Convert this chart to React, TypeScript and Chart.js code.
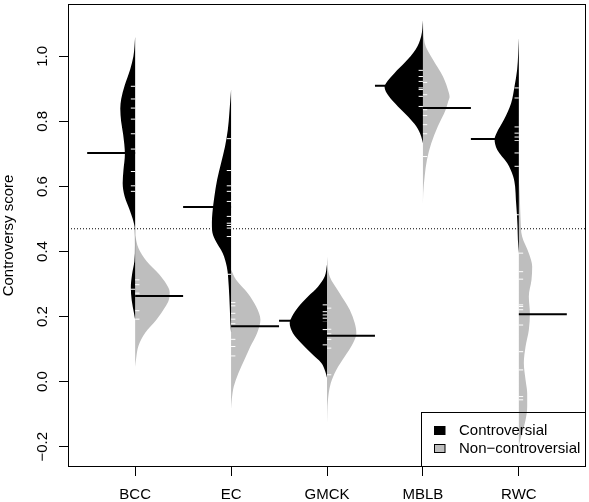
import { useEffect, useRef } from "react";
import { Chart, registerables } from "chart.js";

Chart.register(...registerables);

const FONT = "'Liberation Sans', Arial, sans-serif";
const FONT_SIZE = 15;

const categories = ["BCC", "EC", "GMCK", "MBLB", "RWC"];
const seriesNames = ["Controversial", "Non\u2212controversial"];
const seriesColors = ["#000000", "#bebebe"];

const yTickValues = [-0.2, 0, 0.2, 0.4, 0.6, 0.8, 1.0];
const yTickLabels = ["\u22120.2", "0.0", "0.2", "0.4", "0.6", "0.8", "1.0"];

const overallMean = 0.47;
const meanControversial = [0.703, 0.537, 0.187, 0.91, 0.746];
const meanNonControversial = [0.263, 0.17, 0.141, 0.841, 0.207];

// individual scores (white bean lines)
const bccScoresC = [0.908, 0.869, 0.841, 0.807, 0.762, 0.715, 0.703, 0.646, 0.602, 0.585, 0.284];
const bccScoresN = [0.313, 0.298, 0.272, 0.265, 0.218, 0.192];
const ecScoresC = [0.747, 0.649, 0.602, 0.585, 0.554, 0.537, 0.508, 0.487, 0.48, 0.472, 0.446, 0.33];
const ecScoresN = [0.243, 0.233, 0.21, 0.192, 0.178, 0.13, 0.108, 0.079];
const gmckScoresC = [0.236, 0.215, 0.205, 0.195, 0.185, 0.16, 0.113];
const gmckScoresN = [0.226, 0.161, 0.147, 0.141, 0.13, 0.103, 0.021];
const mblbScoresC = [0.957, 0.938, 0.923, 0.903, 0.898, 0.877, 0.846];
const mblbScoresN = [0.92, 0.882, 0.836, 0.818, 0.79, 0.762, 0.692];
const rwcScoresC = [0.903, 0.872, 0.783, 0.764, 0.752, 0.747, 0.742, 0.703, 0.662, 0.513];
const rwcScoresN = [0.395, 0.338, 0.315, 0.236, 0.231, 0.221, 0.174, 0.092, 0.036, -0.046, -0.056];

// density outlines: [score, half width in category units]
const bccDensityC = [[1.06, 0], [1.0, 0.018], [0.96, 0.052], [0.91, 0.11], [0.87, 0.145], [0.84, 0.155], [0.8, 0.146], [0.76, 0.125], [0.7, 0.107], [0.65, 0.122], [0.61, 0.13], [0.57, 0.11], [0.53, 0.06], [0.5, 0.025], [0.47, 0.004], [0.42, 0.002], [0.37, 0.008], [0.33, 0.032], [0.29, 0.045], [0.25, 0.036], [0.21, 0.012], [0.19, 0]];
const bccDensityN = [[0.45, 0], [0.41, 0.035], [0.37, 0.12], [0.33, 0.25], [0.3, 0.325], [0.275, 0.36], [0.25, 0.35], [0.23, 0.315], [0.19, 0.222], [0.15, 0.105], [0.11, 0.035], [0.07, 0.01], [0.045, 0]];
const ecDensityC = [[0.897, 0], [0.826, 0.018], [0.774, 0.034], [0.723, 0.063], [0.672, 0.104], [0.62, 0.146], [0.569, 0.174], [0.518, 0.195], [0.49, 0.2], [0.465, 0.198], [0.436, 0.167], [0.395, 0.087], [0.354, 0.045], [0.292, 0.024], [0.231, 0.014], [0.18, 0.007], [0.15, 0]];
const ecDensityN = [[0.344, 0], [0.313, 0.052], [0.272, 0.174], [0.231, 0.261], [0.19, 0.306], [0.149, 0.271], [0.108, 0.201], [0.067, 0.139], [0.026, 0.076], [-0.015, 0.028], [-0.056, 0.007], [-0.085, 0]];
const gmckDensityC = [[0.36, 0], [0.323, 0.024], [0.292, 0.094], [0.262, 0.198], [0.231, 0.295], [0.2, 0.365], [0.18, 0.389], [0.149, 0.355], [0.118, 0.268], [0.087, 0.164], [0.057, 0.059], [0.031, 0.018], [0.012, 0]];
const gmckDensityN = [[0.385, 0], [0.323, 0.028], [0.272, 0.132], [0.221, 0.237], [0.18, 0.289], [0.149, 0.306], [0.118, 0.271], [0.077, 0.185], [0.036, 0.097], [-0.005, 0.039], [-0.056, 0.01], [-0.128, 0]];
const mblbDensityC = [[1.11, 0], [1.062, 0.018], [1.021, 0.076], [0.98, 0.191], [0.949, 0.295], [0.918, 0.383], [0.906, 0.4], [0.877, 0.355], [0.846, 0.261], [0.815, 0.156], [0.785, 0.07], [0.754, 0.018], [0.733, 0]];
const mblbDensityN = [[1.113, 0], [1.041, 0.018], [0.99, 0.104], [0.938, 0.209], [0.887, 0.271], [0.875, 0.278], [0.862, 0.264], [0.836, 0.237], [0.785, 0.156], [0.733, 0.087], [0.682, 0.042], [0.631, 0.018], [0.58, 0.003], [0.54, 0]];
const rwcDensityC = [[1.057, 0], [0.959, 0.018], [0.908, 0.045], [0.857, 0.08], [0.805, 0.156], [0.764, 0.233], [0.746, 0.253], [0.713, 0.226], [0.672, 0.122], [0.631, 0.059], [0.6, 0.039], [0.559, 0.031], [0.518, 0.021], [0.477, 0.014], [0.436, 0.01], [0.395, 0]];
const rwcDensityN = [[0.62, 0], [0.569, 0.01], [0.498, 0.018], [0.446, 0.034], [0.395, 0.104], [0.354, 0.139], [0.313, 0.132], [0.262, 0.104], [0.21, 0.115], [0.159, 0.104], [0.108, 0.07], [0.057, 0.052], [0.005, 0.07], [-0.036, 0.087], [-0.077, 0.087], [-0.118, 0.07], [-0.159, 0.034], [-0.195, 0]];

const scoresC = [bccScoresC, ecScoresC, gmckScoresC, mblbScoresC, rwcScoresC];
const scoresN = [bccScoresN, ecScoresN, gmckScoresN, mblbScoresN, rwcScoresN];
const densityC = [bccDensityC, ecDensityC, gmckDensityC, mblbDensityC, rwcDensityC];
const densityN = [bccDensityN, ecDensityN, gmckDensityN, mblbDensityN, rwcDensityN];

const MEAN_LEN = 0.5;
const TICK_LEN = 0.045;
const GAP = { x: null, y: null };

// box, rotated y labels and the legend, R style
const rFrame = {
  id: "rFrame",
  afterDraw(chart: any) {
    const { ctx, chartArea: a, scales } = chart;
    ctx.save();
    ctx.strokeStyle = "#000";
    ctx.lineWidth = 1;
    const l = Math.round(a.left) + 0.5;
    const t = Math.round(a.top) + 0.5;
    const r = Math.round(a.right) - 0.5;
    const b = Math.round(a.bottom) - 0.5;
    ctx.strokeRect(l, t, r - l, b - t);

    // y tick labels, rotated like R
    ctx.fillStyle = "#000";
    ctx.font = `${FONT_SIZE}px ${FONT}`;
    ctx.textAlign = "center";
    ctx.textBaseline = "alphabetic";
    yTickValues.forEach((v, i) => {
      const py = scales.y.getPixelForValue(v);
      ctx.save();
      ctx.translate(a.left - 21, py);
      ctx.rotate(-Math.PI / 2);
      ctx.fillText(yTickLabels[i], 0, 0);
      ctx.restore();
    });

    // legend
    const bw = 164;
    const bh = 54;
    const bx = r - bw;
    const by = b - bh;
    ctx.strokeRect(bx, by, bw, bh);
    ctx.textAlign = "left";
    ctx.textBaseline = "middle";
    seriesNames.forEach((name, i) => {
      const cy = by + 18 + i * 18;
      ctx.fillStyle = seriesColors[i];
      ctx.fillRect(bx + 13, cy - 4, 10.5, 8);
      ctx.strokeRect(bx + 13, cy - 4, 10.5, 8);
      ctx.fillStyle = "#000";
      ctx.fillText(name, bx + 37.5, cy + 0.5);
    });
    ctx.restore();
  },
};

export default function App() {
  const chartRef = useRef<HTMLCanvasElement>(null);
  const chartInstanceRef = useRef<Chart | null>(null);

  useEffect(() => {
    if (!chartRef.current) return;
    if (chartInstanceRef.current) chartInstanceRef.current.destroy();

    const datasets: any[] = [];

    // overall mean, dotted
    datasets.push({
      data: [{ x: 0.3, y: overallMean }, { x: 5.7, y: overallMean }],
      borderColor: "#000",
      borderWidth: 1,
      borderDash: [1, 2],
      pointRadius: 0,
      order: 6,
    });

    categories.forEach((_, i) => {
      const c = i + 1;
      // left half: controversial
      datasets.push({
        data: densityC[i].map(([v, w]) => ({ x: c - w, y: v })),
        fill: { value: c },
        backgroundColor: seriesColors[0],
        borderColor: "transparent",
        borderWidth: 0,
        pointRadius: 0,
        cubicInterpolationMode: "monotone",
        order: 5,
      });
      // right half: non-controversial
      datasets.push({
        data: densityN[i].map(([v, w]) => ({ x: c + w, y: v })),
        fill: { value: c },
        backgroundColor: seriesColors[1],
        borderColor: "transparent",
        borderWidth: 0,
        pointRadius: 0,
        cubicInterpolationMode: "monotone",
        order: 5,
      });
    });

    // bean lines
    datasets.push({
      data: scoresC.flatMap((arr, i) => arr.flatMap((v) => [{ x: i + 1 - TICK_LEN, y: v }, { x: i + 1, y: v }, GAP])),
      borderColor: "#fff",
      borderWidth: 1,
      pointRadius: 0,
      order: 3,
    });
    datasets.push({
      data: scoresN.flatMap((arr, i) => arr.flatMap((v) => [{ x: i + 1, y: v }, { x: i + 1 + TICK_LEN, y: v }, GAP])),
      borderColor: "#fff",
      borderWidth: 1,
      pointRadius: 0,
      order: 3,
    });

    // bean averages
    datasets.push({
      data: meanControversial.flatMap((m, i) => [{ x: i + 1 - MEAN_LEN, y: m }, { x: i + 1, y: m }, GAP]),
      borderColor: "#000",
      borderWidth: 2,
      pointRadius: 0,
      order: 2,
    });
    datasets.push({
      data: meanNonControversial.flatMap((m, i) => [{ x: i + 1, y: m }, { x: i + 1 + MEAN_LEN, y: m }, GAP]),
      borderColor: "#000",
      borderWidth: 2,
      pointRadius: 0,
      order: 2,
    });

    const axisGrid = { drawOnChartArea: false, drawTicks: true, tickLength: 9, color: "#000", lineWidth: 1 };

    chartInstanceRef.current = new Chart(chartRef.current, {
      type: "line",
      data: { datasets },
      plugins: [rFrame],
      options: {
        indexAxis: "y",
        animation: false,
        responsive: true,
        maintainAspectRatio: false,
        events: [],
        spanGaps: false,
        layout: { padding: { top: 4, right: 3, left: 0, bottom: 0 } },
        plugins: {
          legend: { display: false },
          tooltip: { enabled: false },
        },
        scales: {
          x: {
            type: "linear",
            min: 0.3,
            max: 5.7,
            afterBuildTicks: (s: any) => {
              s.ticks = categories.map((_, i) => ({ value: i + 1 }));
            },
            afterFit: (s: any) => {
              s.height = 35;
            },
            ticks: {
              callback: (v: any) => categories[Math.round(Number(v)) - 1],
              color: "#000",
              font: { family: FONT, size: FONT_SIZE },
              padding: 10,
              maxRotation: 0,
              autoSkip: false,
            },
            grid: axisGrid,
            border: { display: false },
          },
          y: {
            type: "linear",
            min: -0.2625,
            max: 1.161,
            afterBuildTicks: (s: any) => {
              s.ticks = yTickValues.map((v) => ({ value: v }));
            },
            afterFit: (s: any) => {
              s.width = 68;
            },
            ticks: { display: false },
            grid: axisGrid,
            border: { display: false },
            title: {
              display: true,
              text: "Controversy score",
              color: "#000",
              font: { family: FONT, size: FONT_SIZE },
              padding: 0,
            },
          },
        },
      } as any,
    });

    return () => {
      if (chartInstanceRef.current) {
        chartInstanceRef.current.destroy();
        chartInstanceRef.current = null;
      }
    };
  }, []);

  return (
    <div style={{ position: "absolute", left: 0, top: 0, width: 589, height: 502, background: "#fff" }}>
      <canvas ref={chartRef} />
    </div>
  );
}
